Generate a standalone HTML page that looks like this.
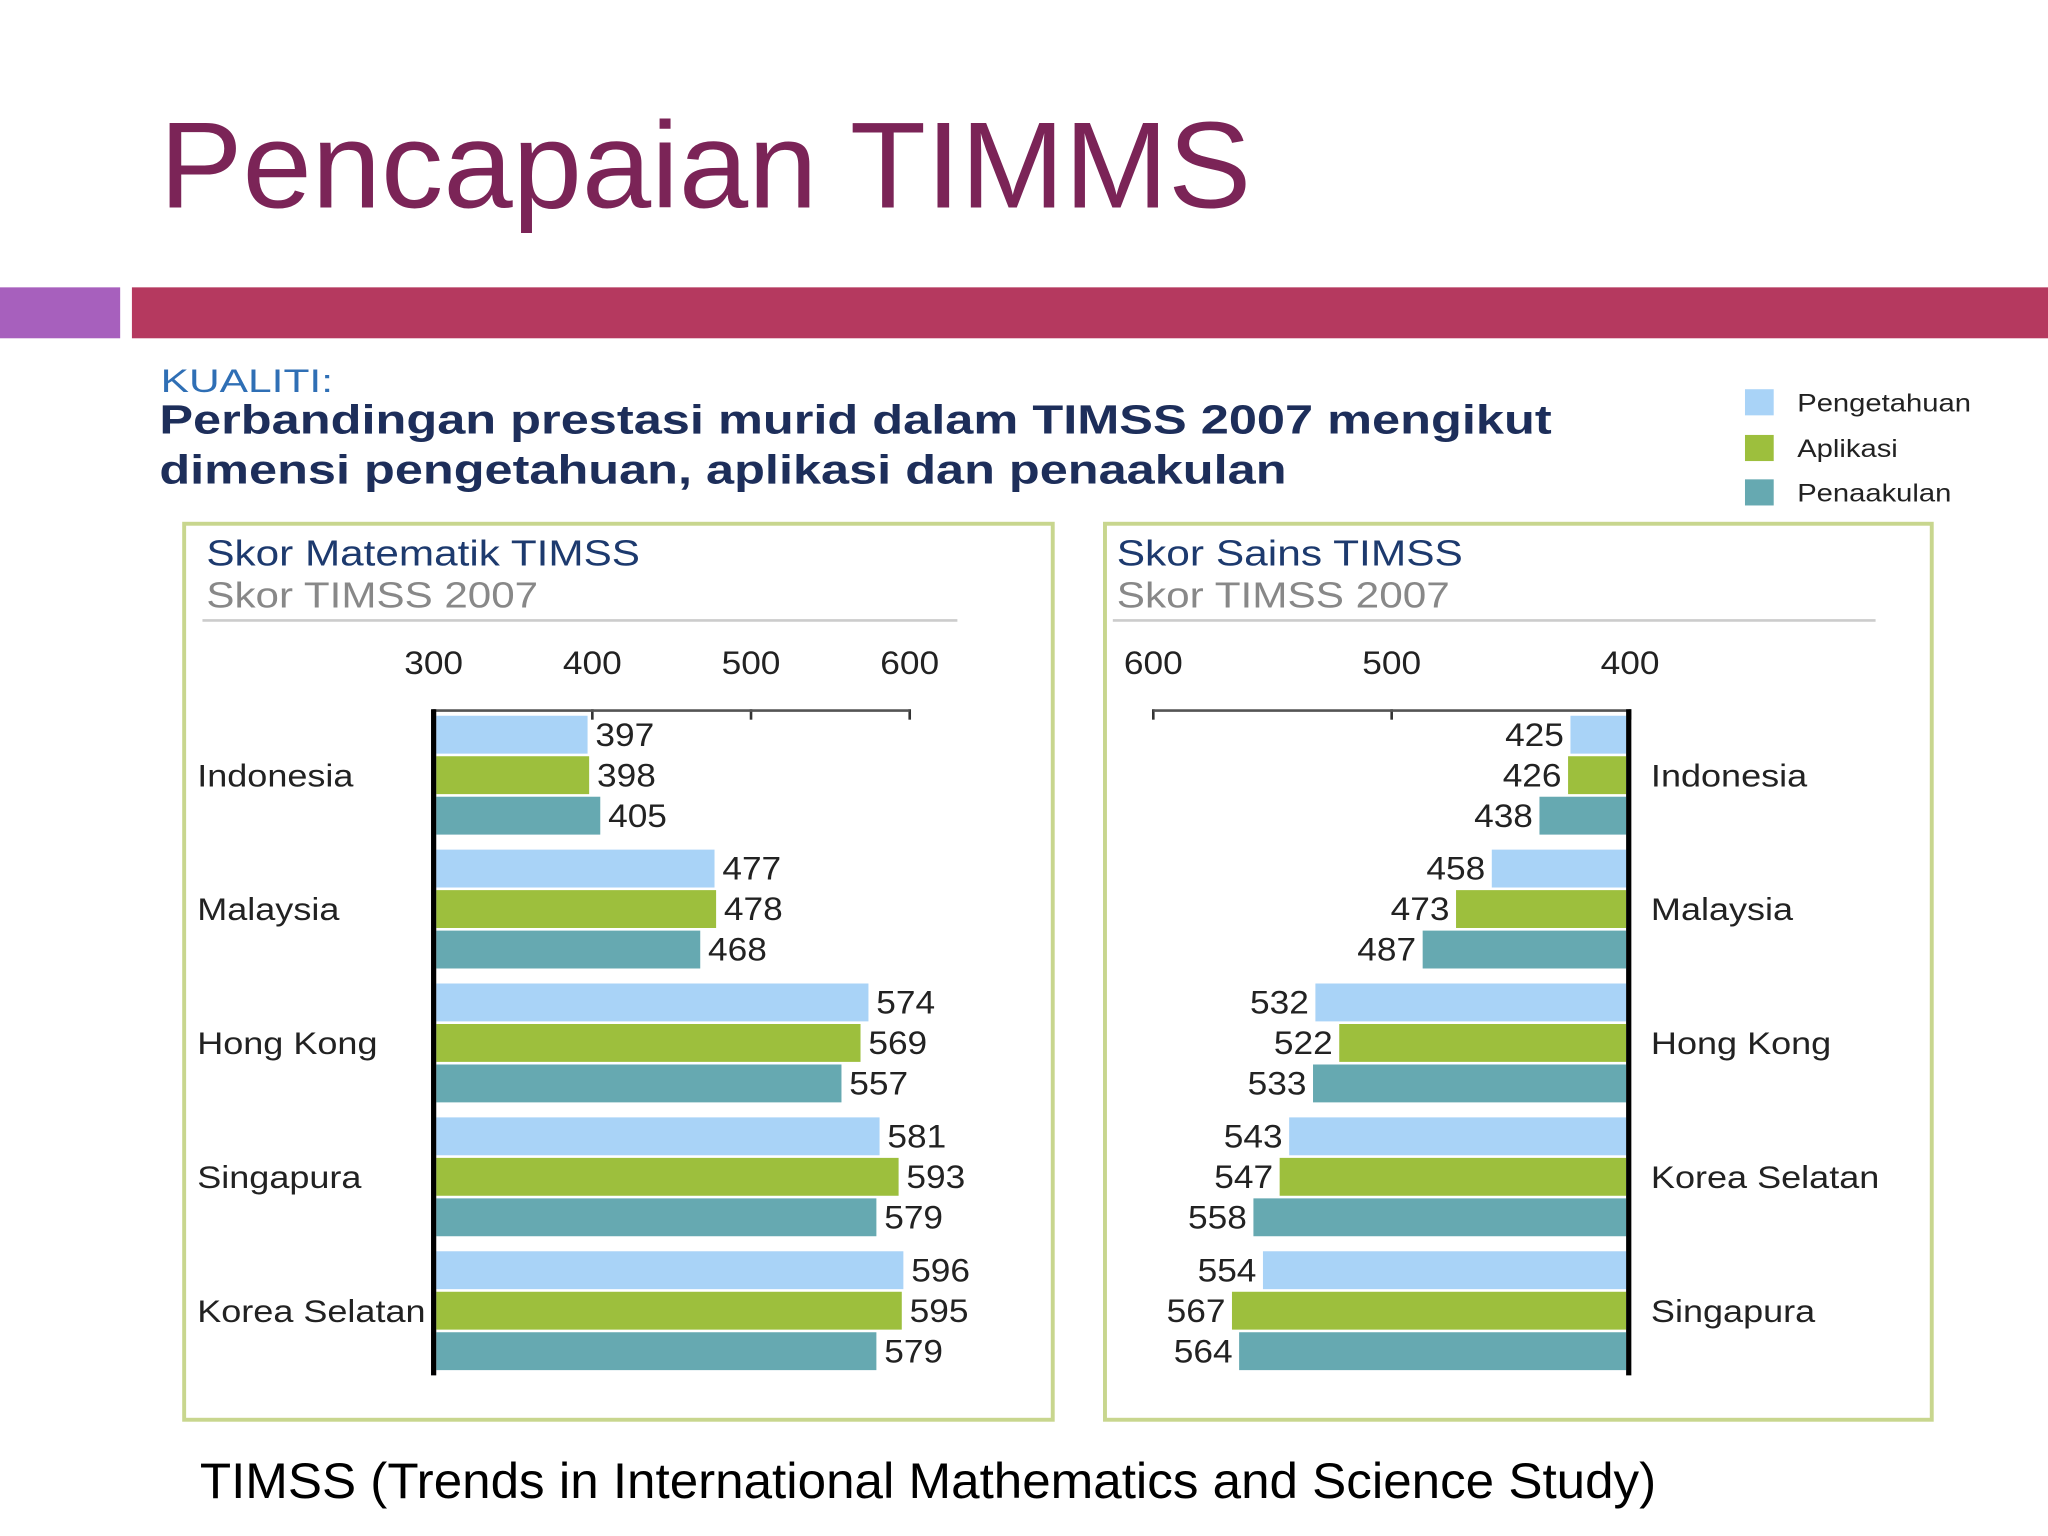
<!DOCTYPE html>
<html><head><meta charset="utf-8"><style>
html,body{margin:0;padding:0;background:#fff;}
svg{display:block;font-family:"Liberation Sans",sans-serif;}
</style></head><body>
<svg width="2048" height="1536" viewBox="0 0 1568 1176" xmlns="http://www.w3.org/2000/svg">
<rect width="1568" height="1176" fill="#fff"/>
<text x="122" y="159" font-size="94" fill="#7b2457" textLength="836" lengthAdjust="spacingAndGlyphs">Pencapaian TIMMS</text>
<rect x="0" y="220" width="92" height="39" fill="#a760bd"/>
<rect x="101" y="220" width="1467" height="39" fill="#b5395f"/>
<text x="123" y="300" font-size="25" fill="#2f6fb5" textLength="132" lengthAdjust="spacingAndGlyphs">KUALITI:</text>
<text x="122" y="332" font-size="31" font-weight="bold" fill="#1d2e5a" textLength="1066" lengthAdjust="spacingAndGlyphs">Perbandingan prestasi murid dalam TIMSS 2007 mengikut</text>
<text x="122" y="370" font-size="31" font-weight="bold" fill="#1d2e5a" textLength="863" lengthAdjust="spacingAndGlyphs">dimensi pengetahuan, aplikasi dan penaakulan</text>
<g font-size="19" fill="#222">
<rect x="1336" y="298" width="22" height="20" fill="#a9d3f7"/>
<text x="1376" y="315" textLength="133" lengthAdjust="spacingAndGlyphs">Pengetahuan</text>
<rect x="1336" y="333" width="22" height="20" fill="#9dbf3d"/>
<text x="1376" y="350" textLength="77" lengthAdjust="spacingAndGlyphs">Aplikasi</text>
<rect x="1336" y="367" width="22" height="20" fill="#66a9b1"/>
<text x="1376" y="384" textLength="118" lengthAdjust="spacingAndGlyphs">Penaakulan</text>
</g>
<rect x="141" y="401" width="665" height="686" fill="none" stroke="#c8d68e" stroke-width="3"/>
<rect x="846" y="401" width="633" height="686" fill="none" stroke="#c8d68e" stroke-width="3"/>
<text x="158" y="433" font-size="28" fill="#1d3a6e" textLength="332" lengthAdjust="spacingAndGlyphs">Skor Matematik TIMSS</text>
<text x="158" y="465" font-size="28" fill="#888" textLength="254" lengthAdjust="spacingAndGlyphs">Skor TIMSS 2007</text>
<line x1="155" y1="475" x2="733" y2="475" stroke="#ccc" stroke-width="2"/>
<text x="855" y="433" font-size="28" fill="#1d3a6e" textLength="265" lengthAdjust="spacingAndGlyphs">Skor Sains TIMSS</text>
<text x="855" y="465" font-size="28" fill="#888" textLength="255" lengthAdjust="spacingAndGlyphs">Skor TIMSS 2007</text>
<line x1="852" y1="475" x2="1436" y2="475" stroke="#ccc" stroke-width="2"/>
<g id="charts"></g>
<text x="153" y="1147" font-size="38" fill="#000" textLength="1115" lengthAdjust="spacingAndGlyphs">TIMSS (Trends in International Mathematics and Science Study)</text>
</svg>
<script>
const mathCountries=["Indonesia","Malaysia","Hong Kong","Singapura","Korea Selatan"];
const mathPengetahuan=[397,477,574,581,596];
const mathAplikasi=[398,478,569,593,595];
const mathPenaakulan=[405,468,557,579,579];
const mathTicks=[300,400,500,600];
const sciCountries=["Indonesia","Malaysia","Hong Kong","Korea Selatan","Singapura"];
const sciPengetahuan=[425,458,532,543,554];
const sciAplikasi=[426,473,522,547,567];
const sciPenaakulan=[438,487,533,558,564];
const sciTicks=[600,500,400];
const colors=["#a9d3f7","#9dbf3d","#66a9b1"];
const NS="http://www.w3.org/2000/svg";
const g=document.getElementById("charts");
function mk(tag,attrs,txt){const e=document.createElementNS(NS,tag);for(const k in attrs)e.setAttribute(k,attrs[k]);if(txt!==undefined)e.textContent=txt;g.appendChild(e);return e;}
function widen(e,f){const w=e.getComputedTextLength();e.setAttribute("textLength",w*f);e.setAttribute("lengthAdjust","spacingAndGlyphs");}
const groupY=i=>548+i*102.5;
// math
const mx=v=>332+(v-300)*1.215;
mathTicks.forEach(t=>{const e=mk("text",{x:mx(t),y:516,"font-size":25,"text-anchor":"middle",fill:"#222"},t);


widen(e,1.08);
const tk=mk("line",{x1:mx(t),y1:543,x2:mx(t),y2:551,stroke:"#333","stroke-width":2});

});
mk("line",{x1:mx(300),y1:544,x2:mx(600),y2:544,stroke:"#555","stroke-width":2});
[mathPengetahuan,mathAplikasi,mathPenaakulan].forEach((s,j)=>s.forEach((v,i)=>{
const y=groupY(i)+j*31;
const r=mk("rect",{x:334,y:y,width:mx(v)-334,height:29,fill:colors[j]});


const l=mk("text",{x:mx(v)+6,y:y+23,"font-size":25,fill:"#222"},v);


widen(l,1.08);}));
mathCountries.forEach((c,i)=>{const e=mk("text",{x:151,y:groupY(i)+54,"font-size":24,fill:"#222"},c);


widen(e,1.15);});
const ma=mk("line",{x1:332,y1:543,x2:332,y2:1053,stroke:"#000","stroke-width":4});


// science
const sx=v=>1248-(v-400)*1.825;
sciTicks.forEach(t=>{const e=mk("text",{x:sx(t),y:516,"font-size":25,"text-anchor":"middle",fill:"#222"},t);


widen(e,1.08);
const tk=mk("line",{x1:sx(t),y1:543,x2:sx(t),y2:551,stroke:"#333","stroke-width":2});

});
mk("line",{x1:sx(600),y1:544,x2:sx(400),y2:544,stroke:"#555","stroke-width":2});
[sciPengetahuan,sciAplikasi,sciPenaakulan].forEach((s,j)=>s.forEach((v,i)=>{
const y=groupY(i)+j*31;
const r=mk("rect",{x:sx(v),y:y,width:1245-sx(v),height:29,fill:colors[j]});


const l=mk("text",{x:sx(v)-5,y:y+23,"font-size":25,"text-anchor":"end",fill:"#222"},v);


widen(l,1.08);}));
sciCountries.forEach((c,i)=>{const e=mk("text",{x:1264,y:groupY(i)+54,"font-size":24,fill:"#222"},c);


widen(e,1.15);});
const sa=mk("line",{x1:1247,y1:543,x2:1247,y2:1053,stroke:"#000","stroke-width":4});


</script>
</body></html>
